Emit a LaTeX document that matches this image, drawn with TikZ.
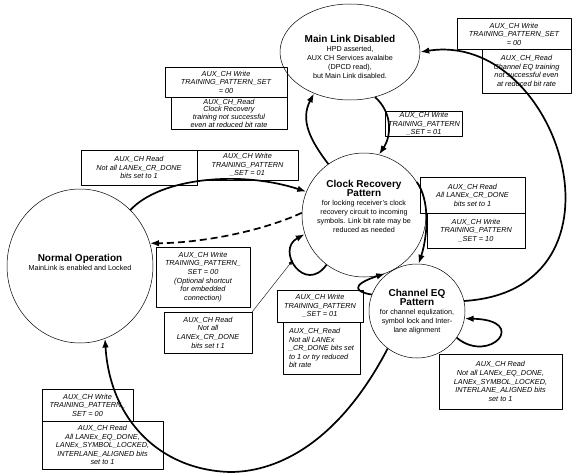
\documentclass[tikz,border=0pt]{standalone}
\usepackage{fontspec}
\setmainfont{Liberation Sans}
\usetikzlibrary{arrows.meta,shapes.geometric}

\tikzset{
  state/.style={draw, ellipse, inner sep=0pt, line width=0.5pt},
  statetxt/.style={align=center, inner sep=0pt, font=\fontsize{7.2}{9}\selectfont},
  cond/.style={draw, line width=0.6pt, align=center, inner sep=0pt,
    font=\fontsize{7.3}{8.6}\selectfont\itshape},
  trans/.style={line width=1.7pt, -{Latex[length=9pt,width=6.5pt]}},
}
\newcommand{\ttl}[1]{{\fontsize{10}{12}\selectfont\bfseries #1}}

\begin{document}
\begin{tikzpicture}[x=1pt,y=-1pt,line join=round]

\useasboundingbox (0,0) rectangle (578,476);

% states
\node[state, minimum width=140, minimum height=96] (mld) at (350,52) {};
\node[state, minimum width=124, minimum height=124] (cr) at (364,215) {};
\node[state, minimum width=146, minimum height=154] (norm) at (80,266) {};
\node[state, minimum width=96, minimum height=94] (ceq) at (417,311) {};

\node[statetxt] (mldtxt) at (350,57) {\ttl{Main Link Disabled}\\HPD asserted,\\AUX CH Services avalaibe\\(DPCD read),\\but Main Link disabled.};
\node[statetxt] (crtxt) at (364,206) {\ttl{Clock Recovery}\\\ttl{Pattern}\\for locking receiver's clock\\recovery circuit to incoming\\symbols. Link bit rate may be\\reduced as needed};
\node[statetxt] (normtxt) at (80,262) {\ttl{Normal Operation}\\MainLink is enabled and Locked};
\node[statetxt] (ceqtxt) at (417,312) {\ttl{Channel EQ}\\\ttl{Pattern}\\for channel equlization,\\symbol lock and Inter-\\lane alignment};

% condition boxes
\node[cond, minimum width=114, minimum height=31] (w1) at (514,34) {AUX\_CH Write\\TRAINING\_PATTERN\_SET\\= 00};
\node[cond, minimum width=89, minimum height=44] (r1) at (526.5,71) {AUX\_CH\_Read\\Channel EQ training\\not successful even\\at reduced bit rate};

\node[cond, minimum width=122, minimum height=30] (w2) at (226,82) {AUX\_CH Write\\TRAINING\_PATTERN\_SET\\= 00};
\node[cond, minimum width=116, minimum height=32, font=\fontsize{7.3}{7.6}\selectfont\itshape] (r2) at (229,113) {AUX\_CH\_Read\\Clock Recovery\\training not successful\\even at reduced bit rate};

\node[cond, minimum width=77, minimum height=25] (w3) at (424,124) {AUX\_CH Write\\TRAINING\_PATTERN\\\_SET = 01};

\node[cond, minimum width=116, minimum height=35] (r4) at (139,167.5) {AUX\_CH Read\\Not all LANEx\_CR\_DONE\\bits set to 1};
\node[cond, minimum width=101, minimum height=30] (w4) at (247.5,165) {AUX\_CH Write\\TRAINING\_PATTERN\\\_SET = 01};

\node[cond, minimum width=105, minimum height=36] (r5) at (472.5,195) {AUX\_CH Read\\All LANEx\_CR\_DONE\\bits set to 1};
\node[cond, minimum width=98, minimum height=35] (w5) at (476,230.5) {AUX\_CH Write\\TRAINING\_PATTERN\\\_SET = 10};

\node[cond, minimum width=94, minimum height=60] (w6) at (203,277) {AUX\_CH Write\\TRAINING\_PATTERN\_\\SET = 00\\(Optional shortcut\\for embedded\\connection)};
\node[cond, minimum width=88, minimum height=41] (r7) at (208,332.5) {AUX\_CH Read\\Not all\\LANEx\_CR\_DONE\\bits set t 1};

\node[cond, minimum width=86, minimum height=32] (w8) at (320,306) {AUX\_CH Write\\TRAINING\_PATTERN\\\_SET = 01};
\node[cond, minimum width=77, minimum height=52, align=left] (r8) at (321.5,348) {AUX\_CH\_Read\\Not all LANEx\\\_CR\_DONE bits set\\to 1 or try reduced\\bit rate};

\node[cond, minimum width=123, minimum height=55] (r9) at (500.5,381.5) {AUX\_CH Read\\Not all LANEx\_EQ\_DONE,\\LANEx\_SYMBOL\_LOCKED,\\INTERLANE\_ALIGNED bits\\set to 1};

\node[cond, minimum width=91, minimum height=32] (w10) at (87.5,405) {AUX\_CH Write\\TRAINING\_PATTERN\_\\SET = 00};
\node[cond, minimum width=121, minimum height=48] (r10) at (102.5,445) {AUX\_CH Read\\All LANEx\_EQ\_DONE,\\LANEx\_SYMBOL\_LOCKED,\\INTERLANE\_ALIGNED bits\\set to 1};

% transitions
\draw[trans] (norm.48) .. controls (160,178) and (240,170) .. (cr.158);
\draw[trans, dash pattern=on 7pt off 4pt] (cr.178) .. controls (260,232) and (200,243) .. (norm.18);
\draw[trans] (cr.125) .. controls (310,140) and (300,120) .. (mld.229);
\draw[trans] (mld.299) .. controls (392,112) and (392,135) .. (cr.76);
\draw[trans] (cr.32) .. controls (430,200) and (428,235) .. (ceq.88);
\draw[trans] (ceq.12) .. controls (640,290) and (560,30) .. (mld.east);
\draw[trans] (ceq.232) .. controls (340,440) and (280,472) .. (230,472)
  .. controls (160,470) and (110,420) .. (norm.289);
\draw[trans] (ceq.160) .. controls (355,292) and (350,285) .. (cr.290);

% self loops
\draw[trans] (cr.233) .. controls (305,295) and (275,250) .. (cr.198);
\draw[trans] (ceq.326) .. controls (490,365) and (530,320) .. (ceq.351);

% pointer to the loop
\coordinate (loophint) at (293,260);
\draw[line width=0.4pt, -{Latex[length=5pt,width=3.5pt]}] (r7.north east) -- (loophint);

\end{tikzpicture}
\end{document}
